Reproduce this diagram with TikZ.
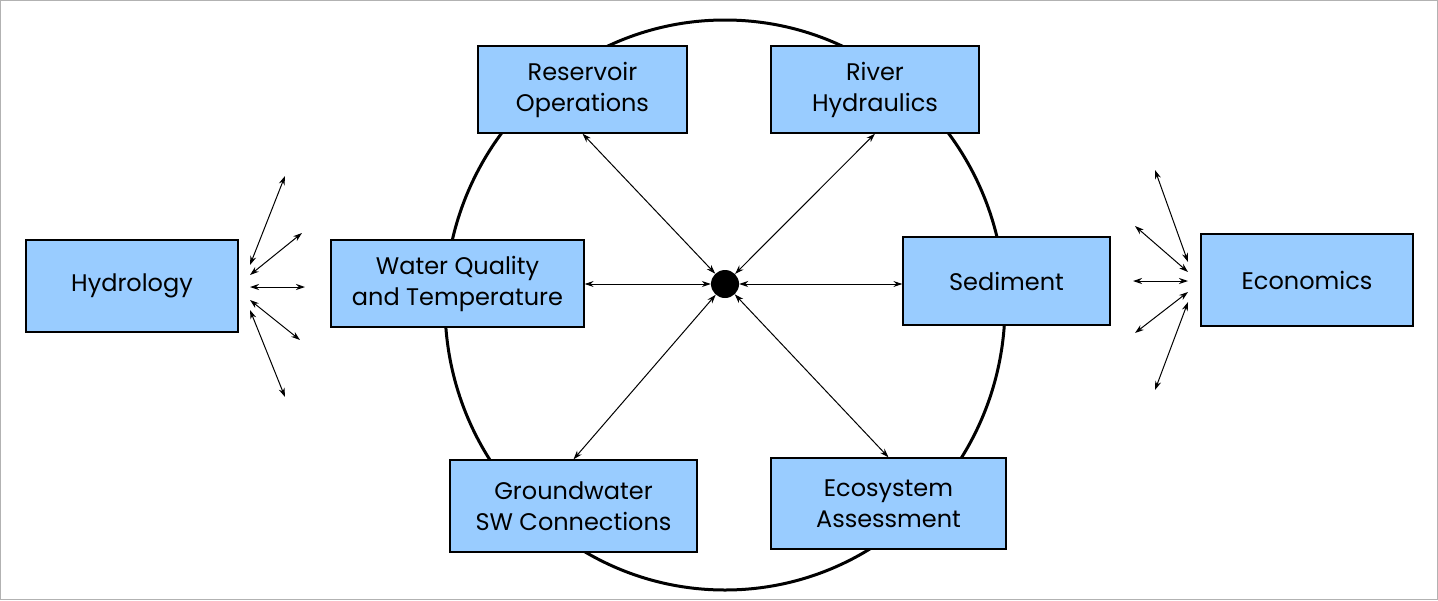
\documentclass[tikz,border=0pt]{standalone}
\usepackage{fontspec}
\setmainfont{Poppins}
\usetikzlibrary{arrows.meta}
\begin{document}
\begin{tikzpicture}[x=1pt,y=-1pt,
  box/.style={draw=black,line width=1.3pt,fill={rgb,255:red,153;green,204;blue,255},align=center,inner sep=0pt,font=\fontsize{24}{31}\selectfont},
  link/.style={line width=1pt,{Stealth[length=9pt,width=6pt]}-{Stealth[length=9pt,width=6pt]}}]
\useasboundingbox (0,0) rectangle (1438,600);
\draw[gray!60,line width=1pt] (0.5,0.5) rectangle (1437.5,599.5);
\draw[line width=3pt] (725,305) ellipse (280 and 285);
\node[box,minimum width=209,minimum height=87] (res) at (582.5,89.5) {Reservoir\\Operations};
\node[box,minimum width=208,minimum height=87] (riv) at (875,89.5) {River\\Hydraulics};
\node[box,minimum width=253,minimum height=87] (wq) at (457.5,283.5) {Water Quality\\and Temperature};
\node[box,minimum width=207,minimum height=88] (sed) at (1006.5,281) {Sediment};
\node[box,minimum width=247,minimum height=92] (gw) at (573.5,506) {Groundwater\\SW Connections};
\node[box,minimum width=235,minimum height=91] (eco) at (888.5,503.5) {Ecosystem\\Assessment};
\node[box,minimum width=212,minimum height=92] (hyd) at (132,286) {Hydrology};
\node[box,minimum width=212,minimum height=92] (econ) at (1307,280) {Economics};
\node[circle,fill=black,minimum size=28,inner sep=0] (hub) at (725,284) {};
\draw[link] (hub) -- (res.south);
\draw[link] (hub) -- (riv.south);
\draw[link] (hub) -- (wq.east|-hub);
\draw[link] (hub) -- (sed.west|-hub);
\draw[link] (hub) -- (gw.north);
\draw[link] (hub) -- (eco.north);
\coordinate (h1) at (285,176); \coordinate (h2) at (302,233); \coordinate (h3) at (305,287);
\coordinate (h4) at (300,340); \coordinate (h5) at (285,397);
\coordinate (hs1) at (250,265); \coordinate (hs2) at (250,275); \coordinate (hs3) at (250,287);
\coordinate (hs4) at (250,300); \coordinate (hs5) at (250,310);
\foreach \i in {1,...,5} \draw[link] (hs\i) -- (h\i);
\coordinate (e1) at (1155,170); \coordinate (e2) at (1135,226); \coordinate (e3) at (1133,281);
\coordinate (e4) at (1135,333); \coordinate (e5) at (1155,390);
\coordinate (es1) at (1188,262); \coordinate (es2) at (1188,272); \coordinate (es3) at (1188,281);
\coordinate (es4) at (1188,292); \coordinate (es5) at (1188,302);
\foreach \i in {1,...,5} \draw[link] (es\i) -- (e\i);
\end{tikzpicture}
\end{document}
